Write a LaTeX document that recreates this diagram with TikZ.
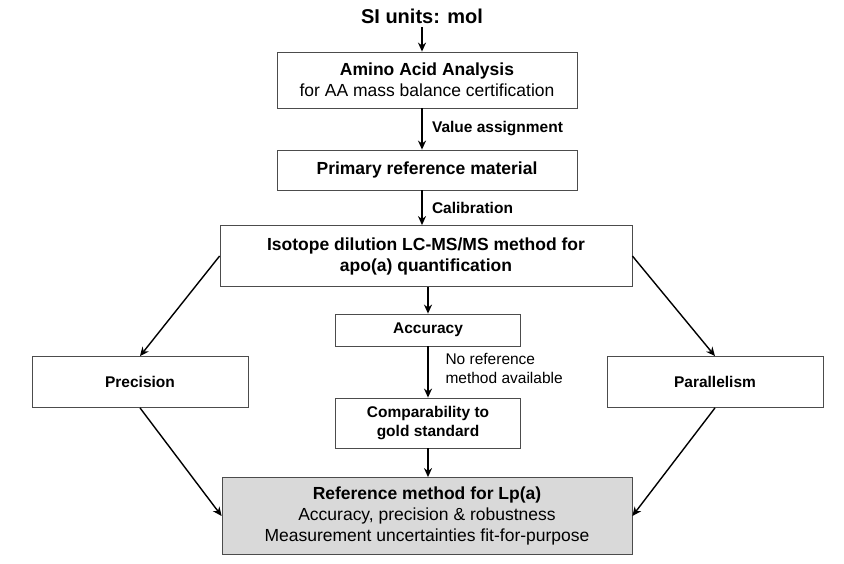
\documentclass[tikz,border=0pt]{standalone}
\usepackage{fontspec}
\setmainfont{Liberation Sans}
\usetikzlibrary{arrows.meta}
\begin{document}
\begin{tikzpicture}[x=1pt,y=-1pt,
  box/.style={draw=black!70,line width=0.8pt,inner sep=2pt,align=center,font=\fontsize{17.5}{21}\selectfont},
  sbox/.style={box,font=\bfseries\fontsize{15.5}{19}\selectfont},
  arr/.style={-{Stealth[length=9pt,width=8pt]},line width=1.4pt},
  lab/.style={font=\bfseries\fontsize{15.5}{19}\selectfont,align=left,anchor=west}]
\useasboundingbox (0,0) rectangle (844,563);
\node[font=\bfseries\fontsize{20}{24}\selectfont] (si) at (422,16) {SI units: mol};
\node[box,minimum width=300pt,minimum height=56pt] (aa) at (427,80) {\textbf{Amino Acid Analysis}\\for AA mass balance certification};
\node[box,minimum width=300pt,minimum height=40pt] (prm) at (427,170) {\textbf{Primary reference material}};
\node[box,minimum width=412pt,minimum height=61pt] (iso) at (426,256) {\textbf{Isotope dilution LC-MS/MS method for}\\\textbf{apo(a) quantification}};
\node[sbox,minimum width=185pt,minimum height=32pt] (acc) at (428,330) {Accuracy};
\node[sbox,minimum width=185pt,minimum height=50pt] (cmp) at (428,423) {Comparability to\\gold standard};
\node[box,fill=black!15,minimum width=410pt,minimum height=77pt] (ref) at (427,516) {\textbf{Reference method for Lp(a)}\\Accuracy, precision \& robustness\\Measurement uncertainties fit-for-purpose};
\node[sbox,minimum width=216pt,minimum height=51pt] (pre) at (140,382) {Precision};
\node[sbox,minimum width=216pt,minimum height=51pt] (par) at (715,382) {Parallelism};
\draw[arr] (si) -- (si|-aa.north);
\draw[arr] (aa.south-|422,0) -- node[lab,right=6pt]{Value assignment} (prm.north-|422,0);
\draw[arr] (prm.south-|422,0) -- node[lab,right=6pt]{Calibration} (iso.north-|422,0);
\draw[arr] (iso.south-|acc) -- (acc.north);
\draw[arr] (acc.south) -- (cmp.north);
\node[lab,font=\fontsize{15.5}{19}\selectfont] at (442,368) {No reference\\method available};
\draw[arr] (cmp.south) -- (ref.north-|cmp);
\draw[arr] (iso.west) -- (pre.north);
\draw[arr] (iso.east) -- (par.north);
\draw[arr] (pre.south) -- (ref.west);
\draw[arr] (par.south) -- (ref.east);
\end{tikzpicture}
\end{document}
